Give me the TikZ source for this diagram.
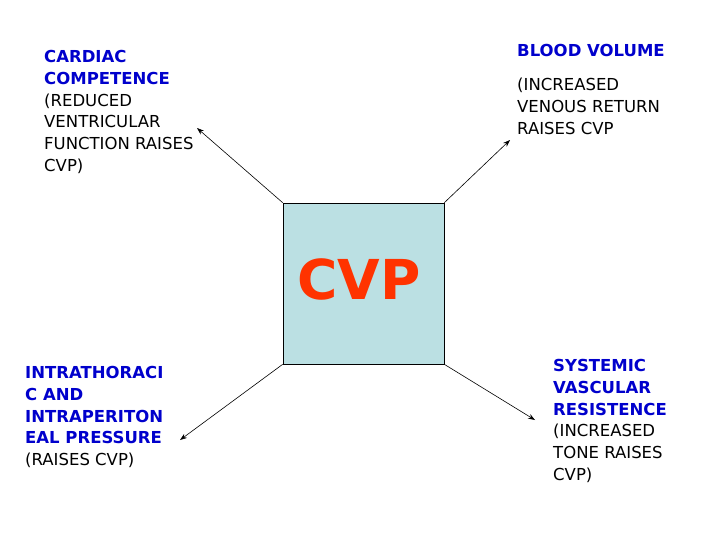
\documentclass[tikz,border=0pt]{standalone}
\usepackage{fontspec}
\setmainfont{DejaVu Sans}
\usetikzlibrary{arrows.meta}
\definecolor{boxfill}{RGB}{187,224,227}
\definecolor{cvpred}{RGB}{255,51,0}
\definecolor{txtblue}{RGB}{0,0,204}
\begin{document}
\begin{tikzpicture}[x=1pt,y=-1pt,
  lbl/.style={anchor=north west,align=left,inner sep=0pt,font=\fontsize{16.5}{21.8}\selectfont},
  arr/.style={-{Stealth[length=7pt,width=5pt]},line width=0.6pt}]
\useasboundingbox (0,0) rectangle (728,546);
\node[draw=black,line width=0.6pt,fill=boxfill,minimum width=161pt,minimum height=161pt,inner sep=0pt] (cvp) at (363.5,283.5) {};
\node[text=cvpred,font=\bfseries\fontsize{55}{55}\selectfont,inner sep=0pt] (cvpt) at (359,279) {CVP};
\node[lbl] (tl) at (44,50) {{\color{txtblue}\bfseries CARDIAC}\\{\color{txtblue}\bfseries COMPETENCE}\\(REDUCED\\VENTRICULAR\\FUNCTION RAISES\\CVP)};
\node[lbl] (tr) at (517,44) {{\color{txtblue}\bfseries BLOOD VOLUME}};
\node[lbl] (tr2) at (517,78) {(INCREASED\\VENOUS RETURN\\RAISES CVP};
\node[lbl] (bl) at (25,366) {{\color{txtblue}\bfseries INTRATHORACI}\\{\color{txtblue}\bfseries C AND}\\{\color{txtblue}\bfseries INTRAPERITON}\\{\color{txtblue}\bfseries EAL PRESSURE}\\(RAISES CVP)};
\node[lbl] (br) at (553,359) {{\color{txtblue}\bfseries SYSTEMIC}\\{\color{txtblue}\bfseries VASCULAR}\\{\color{txtblue}\bfseries RESISTENCE}\\(INCREASED\\TONE RAISES\\CVP)};
\coordinate (a1) at (197,128);
\coordinate (a2) at (510,140);
\coordinate (a3) at (180,440);
\coordinate (a4) at (535,420);
\draw[arr] (cvp.north west) -- (a1);
\draw[arr] (cvp.north east) -- (a2);
\draw[arr] (cvp.south west) -- (a3);
\draw[arr] (cvp.south east) -- (a4);
\end{tikzpicture}
\end{document}
